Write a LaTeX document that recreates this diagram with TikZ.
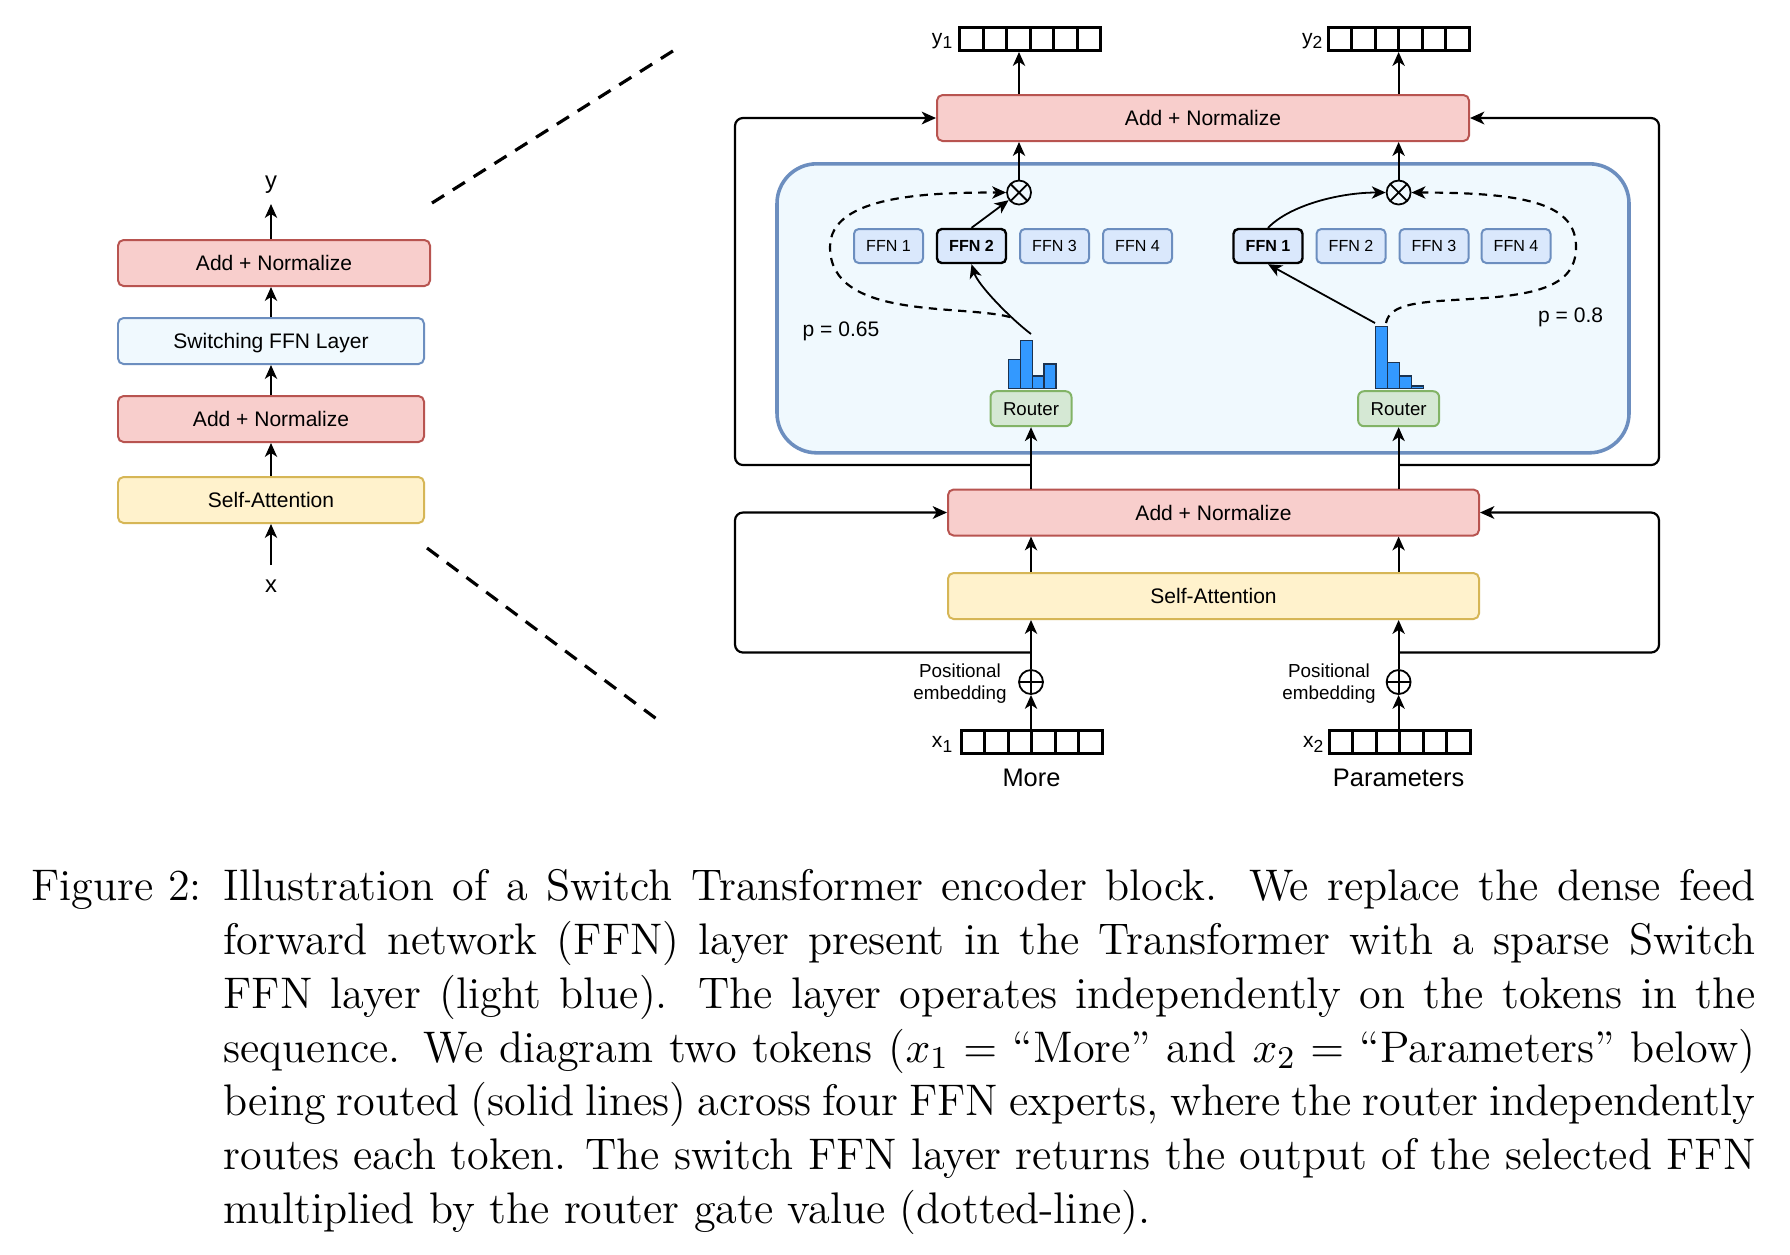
\documentclass[tikz,border=0pt]{standalone}
\usepackage{fontspec}
\newfontfamily\dio{Liberation Sans}
\usetikzlibrary{arrows.meta}
\newlength\pxu
\setlength\pxu{0.252pt}
\newcommand\lsub[1]{\raisebox{-1.2pt}{\fontsize{4.4}{5}\selectfont #1}}
\definecolor{rfill}{HTML}{F8CECC}\definecolor{rdraw}{HTML}{B85450}
\definecolor{bfill}{HTML}{DAE8FC}\definecolor{bdraw}{HTML}{6C8EBF}
\definecolor{yfill}{HTML}{FFF2CC}\definecolor{ydraw}{HTML}{D6B656}
\definecolor{gfill}{HTML}{D5E8D4}\definecolor{gdraw}{HTML}{82B366}
\definecolor{lfill}{HTML}{F0F9FE}
\definecolor{barfill}{HTML}{3399FF}\definecolor{bardraw}{HTML}{1C3350}
\tikzset{
 arr/.style={line width=0.45pt, -{Stealth[length=3.5pt,width=3.1pt,inset=1pt]}},
 loopl/.style={line width=0.55pt, rounded corners=2pt, -{Stealth[length=3.6pt,width=3.2pt,inset=1pt]}},
 gate/.style={line width=0.55pt, dash pattern=on 2.1pt off 1.6pt, -{Stealth[length=3.5pt,width=3.1pt,inset=1pt]}},
 zoomline/.style={line width=0.8pt, dash pattern=on 3.6pt off 2.6pt},
 blk/.style={rounded corners=1.4pt, line width=0.5pt, inner sep=0pt, minimum height=46\pxu, text height=3.85pt, text depth=0pt, font=\dio\fontsize{5.3}{6.4}\selectfont},
 anbox/.style={blk, draw=rdraw, fill=rfill},
 swbox/.style={blk, draw=bdraw, fill=lfill},
 sabox/.style={blk, draw=ydraw, fill=yfill},
 ffn/.style={rounded corners=1.2pt, line width=0.5pt, draw=bdraw, fill=bfill, minimum width=69\pxu, minimum height=34\pxu, inner sep=0pt, text height=2.95pt, text depth=0pt, font=\dio\fontsize{4.05}{5}\selectfont},
 ffnsel/.style={ffn, draw=black, line width=0.6pt, font=\dio\bfseries\fontsize{4.05}{5}\selectfont},
 router/.style={rounded corners=1.5pt, line width=0.5pt, draw=gdraw, fill=gfill, minimum width=81\pxu, minimum height=35\pxu, inner sep=0pt, text height=3.4pt, text depth=0pt, font=\dio\fontsize{4.7}{5.5}\selectfont},
 vec/.style={draw, line width=0.75pt, minimum width=141\pxu, minimum height=23\pxu, inner sep=0pt,
   path picture={\foreach \k in {1,...,5}{\draw[line width=0.75pt] ([xshift=\k*5.922pt]path picture bounding box.south west) -- ([xshift=\k*5.922pt]path picture bounding box.north west);}}},
 circ/.style={circle, draw, line width=0.45pt, minimum size=24\pxu, inner sep=0pt},
 otimes/.style={circ, path picture={\draw[line width=0.45pt] (path picture bounding box.south west) -- (path picture bounding box.north east) (path picture bounding box.north west) -- (path picture bounding box.south east);}},
 oplus/.style={circ, path picture={\draw[line width=0.45pt] (path picture bounding box.west) -- (path picture bounding box.east) (path picture bounding box.north) -- (path picture bounding box.south);}},
 bar/.style={fill=barfill, draw=bardraw, line width=0.3pt},
 tlab/.style={inner sep=0pt, font=\dio\fontsize{5.3}{6.4}\selectfont},
 smalllab/.style={inner sep=0pt, align=center, font=\dio\fontsize{4.75}{5.7}\selectfont},
 biglab/.style={inner sep=0pt, font=\dio\fontsize{6.4}{7.6}\selectfont},
 xylab/.style={inner sep=0pt, font=\dio\fontsize{6}{7}\selectfont},
}
\begin{document}
\begin{tikzpicture}[x=0.252pt,y=-0.252pt]
\useasboundingbox (0,0) rectangle (1790,1254);
\fill[white] (0,0) rectangle (1790,1254);

% ---------- left panel ----------
\node[anbox, minimum width=312\pxu] (LAN1) at (274,263) {Add + Normalize};
\node[swbox, minimum width=306\pxu] (LSW) at (271,341) {Switching FFN Layer};
\node[anbox, minimum width=306\pxu] (LAN2) at (271,419) {Add + Normalize};
\node[sabox, minimum width=306\pxu] (LSA) at (271,500) {Self-Attention};
\node[xylab, anchor=base] (ly) at (271,188) {y};
\node[xylab, anchor=base] (lx) at (271,592) {x};
\coordinate (ytip) at (271,204);
\coordinate (xtail) at (271,565);
\draw[arr] (xtail) -- (LSA.south);
\draw[arr] (LSA.north) -- (LAN2.south);
\draw[arr] (LAN2.north) -- (LSW.south);
\draw[arr] (LSW.north) -- (LSW.north |- LAN1.south);
\draw[arr] (LSW.north |- LAN1.north) -- (ytip);

% zoom lines
\coordinate (za1) at (432,203); \coordinate (za2) at (676,49);
\coordinate (zb1) at (427,548); \coordinate (zb2) at (658,720);
\draw[zoomline] (za1) -- (za2);
\draw[zoomline] (zb1) -- (zb2);

% ---------- right panel ----------
\node[draw=bdraw, fill=lfill, line width=0.9pt, rounded corners=10pt, minimum width=852\pxu, minimum height=289\pxu, inner sep=0pt] (SW) at (1203,308.3) {};

\node[anbox, minimum width=532\pxu] (TAN) at (1203,118) {Add + Normalize};
\node[anbox, minimum width=531\pxu] (BAN) at (1213.5,512.5) {Add + Normalize};
\node[sabox, minimum width=531\pxu] (BSA) at (1213.5,596) {Self-Attention};

% FFN experts
\node[ffn] (FL1) at (888.5,246) {FFN 1};
\node[ffnsel] (FL2) at (971.5,246) {FFN 2};
\node[ffn] (FL3) at (1054.5,246) {FFN 3};
\node[ffn] (FL4) at (1137.5,246) {FFN 4};
\node[ffnsel] (FR1) at (1268,246) {FFN 1};
\node[ffn] (FR2) at (1351,246) {FFN 2};
\node[ffn] (FR3) at (1434,246) {FFN 3};
\node[ffn] (FR4) at (1516,246) {FFN 4};

% routers
\node[router] (RT1) at (1031,408.7) {Router};
\node[router] (RT2) at (1398.6,408.7) {Router};

% bar charts
\draw[bar] (1008.3,388.3) rectangle (1020.7,359.3);
\draw[bar] (1020.7,388.3) rectangle (1032.3,340.7);
\draw[bar] (1032.3,388.3) rectangle (1044,376);
\draw[bar] (1044,388.3) rectangle (1056,364);
\draw[bar] (1375.7,388.3) rectangle (1387.3,326.7);
\draw[bar] (1387.3,388.3) rectangle (1399.3,362.3);
\draw[bar] (1399.3,388.3) rectangle (1411.3,376);
\draw[bar] (1411.3,388.3) rectangle (1423.3,386);

% multiply / add circles
\node[otimes] (OT1) at (1019,192.5) {};
\node[otimes] (OT2) at (1398.6,192.5) {};
\node[oplus] (OP1) at (1031,682) {};
\node[oplus] (OP2) at (1398.6,682) {};

% vectors
\node[vec] (Y1) at (1030,39) {};
\node[vec] (Y2) at (1398.5,39) {};
\node[vec] (X1) at (1031.6,742) {};
\node[vec] (X2) at (1399.6,742) {};
\node[tlab, anchor=base east] (ly1) at (953,44) {y\lsub{1}};
\node[tlab, anchor=base east] (ly2) at (1323,44) {y\lsub{2}};
\node[tlab, anchor=base east] (lx1) at (953,747.5) {x\lsub{1}};
\node[tlab, anchor=base east] (lx2) at (1324,747.5) {x\lsub{2}};
\node[biglab, anchor=base] (more) at (1031.5,786.7) {More};
\node[biglab, anchor=base] (params) at (1398.6,786.7) {Parameters};
\node[smalllab] (pe1) at (960,683.5) {Positional\\embedding};
\node[smalllab] (pe2) at (1329,683.5) {Positional\\embedding};
\node[tlab, anchor=base] (p1) at (841,336) {p = 0.65};
\node[tlab, anchor=base] (p2) at (1570.6,322.5) {p = 0.8};

% vertical flow
\draw[arr] (X1.north -| OP1) -- (OP1);
\draw[arr] (X2.north -| OP2) -- (OP2);
\draw[arr] (OP1) -- (BSA.south -| OP1);
\draw[arr] (OP2) -- (BSA.south -| OP2);
\draw[arr] (BSA.north -| OP1) -- (BAN.south -| OP1);
\draw[arr] (BSA.north -| OP2) -- (BAN.south -| OP2);
\draw[arr] (BAN.north -| RT1) -- (RT1.south);
\draw[arr] (BAN.north -| RT2) -- (RT2.south);
\draw[arr] (OT1) -- (OT1 |- TAN.south);
\draw[arr] (OT2) -- (OT2 |- TAN.south);
\draw[arr] (OT1 |- TAN.north) -- (OT1 |- Y1.south);
\draw[arr] (OT2 |- TAN.north) -- (OT2 |- Y2.south);

% residual loops
\coordinate (jTL) at (RT1 |- 0,465);
\coordinate (jTR) at (RT2 |- 0,465);
\coordinate (jBL) at (OP1 |- 0,652.5);
\coordinate (jBR) at (OP2 |- 0,652.5);
\draw[loopl] (jTL) -- (735,465) |- (TAN.west);
\draw[loopl] (jTR) -- (1659,465) |- (TAN.east);
\draw[loopl] (jBL) -- (735,652.5) |- (BAN.west);
\draw[loopl] (jBR) -- (1659,652.5) |- (BAN.east);

% routing (solid)
\coordinate (h1) at (1031,334);
\coordinate (h2) at (1375,323);
\draw[arr] (h1) .. controls (1010,318) and (978,285) .. (FL2.south);
\draw[arr] (FL2.north) -- (OT1);
\draw[arr] (h2) -- (FR1.south);
\draw[arr] (FR1.north) .. controls (1290,205) and (1340,192.5) .. (OT2.west);

% gate values (dashed)
\coordinate (d1) at (1010,317);
\coordinate (d2) at (1386,323);
\draw[gate] (d1) .. controls (960,304) and (830,320) .. (830,247) .. controls (830,195) and (930,192.5) .. (OT1.west);
\draw[gate] (d2) .. controls (1390,303) and (1420,302) .. (1470,299) .. controls (1540,295) and (1576,285) .. (1576,247) .. controls (1576,205) and (1530,192.5) .. (OT2.east);

% ---------- caption ----------
\node[anchor=base west, inner sep=0pt, font=\fontsize{11.15}{13.55}\selectfont] (cap) at (30.7,900.7)
{\makebox[192\pxu][l]{Figure 2:}\parbox[t]{1532\pxu}{\noindent Illustration of a Switch Transformer encoder block.  We replace the dense feed\linebreak
forward network (FFN) layer present in the Transformer with a sparse Switch\linebreak
FFN layer (light blue).  The layer operates independently on the tokens in the\linebreak
sequence.  We diagram two tokens ($x_1 =$ “More” and $x_2 =$ “Parameters” below)\linebreak
being routed (solid lines) across four FFN experts, where the router independently\linebreak
routes each token.  The switch FFN layer returns the output of the selected FFN\linebreak
multiplied by the router gate value (dotted-line).}};
\end{tikzpicture}
\end{document}
